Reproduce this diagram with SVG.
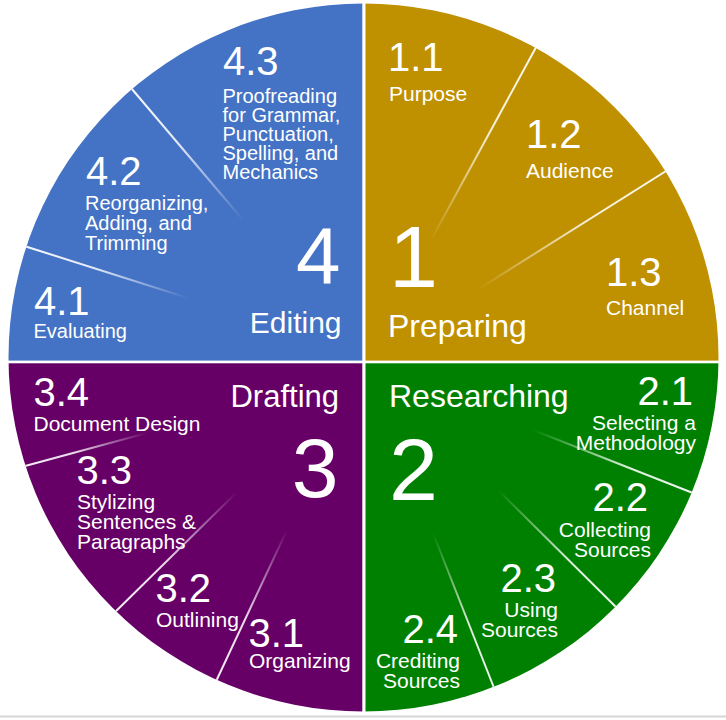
<svg xmlns="http://www.w3.org/2000/svg" width="726" height="720" viewBox="0 0 726 720">
<style>
text{font-family:"Liberation Sans",Arial,sans-serif;fill:#fff}
.num{font-size:40px}
.lab{font-size:21px}
.labb{font-size:20px}
.big{font-size:88px}
.title{font-size:32px}
.end{text-anchor:end}
.div{stroke-width:2;fill:none;stroke-linecap:butt}
</style>
<defs>
<clipPath id="pie"><ellipse cx="363.5" cy="357.5" rx="355" ry="354"/></clipPath>
<linearGradient id="g1" gradientUnits="userSpaceOnUse" x1="540" y1="40" x2="430" y2="242"><stop offset="0" stop-color="#fff" stop-opacity="0.95"/><stop offset="0.45" stop-color="#fff" stop-opacity="0.85"/><stop offset="1" stop-color="#fff" stop-opacity="0"/></linearGradient>
<linearGradient id="g2" gradientUnits="userSpaceOnUse" x1="674" y1="166" x2="477" y2="290"><stop offset="0" stop-color="#fff" stop-opacity="0.95"/><stop offset="0.45" stop-color="#fff" stop-opacity="0.85"/><stop offset="1" stop-color="#fff" stop-opacity="0"/></linearGradient>
<linearGradient id="g3" gradientUnits="userSpaceOnUse" x1="703" y1="497" x2="533" y2="430"><stop offset="0" stop-color="#fff" stop-opacity="0.95"/><stop offset="0.45" stop-color="#fff" stop-opacity="0.85"/><stop offset="1" stop-color="#fff" stop-opacity="0"/></linearGradient>
<linearGradient id="g4" gradientUnits="userSpaceOnUse" x1="625" y1="616" x2="498" y2="490"><stop offset="0" stop-color="#fff" stop-opacity="0.95"/><stop offset="0.45" stop-color="#fff" stop-opacity="0.85"/><stop offset="1" stop-color="#fff" stop-opacity="0"/></linearGradient>
<linearGradient id="g5" gradientUnits="userSpaceOnUse" x1="498" y1="698" x2="433" y2="533"><stop offset="0" stop-color="#fff" stop-opacity="0.95"/><stop offset="0.45" stop-color="#fff" stop-opacity="0.85"/><stop offset="1" stop-color="#fff" stop-opacity="0"/></linearGradient>
<linearGradient id="g6" gradientUnits="userSpaceOnUse" x1="14" y1="469" x2="147" y2="433"><stop offset="0" stop-color="#fff" stop-opacity="0.95"/><stop offset="0.45" stop-color="#fff" stop-opacity="0.85"/><stop offset="1" stop-color="#fff" stop-opacity="0"/></linearGradient>
<linearGradient id="g7" gradientUnits="userSpaceOnUse" x1="107" y1="620" x2="237" y2="492"><stop offset="0" stop-color="#fff" stop-opacity="0.95"/><stop offset="0.45" stop-color="#fff" stop-opacity="0.85"/><stop offset="1" stop-color="#fff" stop-opacity="0"/></linearGradient>
<linearGradient id="g8" gradientUnits="userSpaceOnUse" x1="211" y1="692" x2="287" y2="530"><stop offset="0" stop-color="#fff" stop-opacity="0.95"/><stop offset="0.45" stop-color="#fff" stop-opacity="0.85"/><stop offset="1" stop-color="#fff" stop-opacity="0"/></linearGradient>
<linearGradient id="g9" gradientUnits="userSpaceOnUse" x1="126" y1="82" x2="243" y2="220"><stop offset="0" stop-color="#fff" stop-opacity="0.95"/><stop offset="0.45" stop-color="#fff" stop-opacity="0.85"/><stop offset="1" stop-color="#fff" stop-opacity="0"/></linearGradient>
<linearGradient id="g10" gradientUnits="userSpaceOnUse" x1="18" y1="244" x2="188" y2="298"><stop offset="0" stop-color="#fff" stop-opacity="0.95"/><stop offset="0.45" stop-color="#fff" stop-opacity="0.85"/><stop offset="1" stop-color="#fff" stop-opacity="0"/></linearGradient>
</defs>
<rect x="0" y="0" width="726" height="720" fill="#fff"/>
<rect x="0" y="715.5" width="726" height="2" fill="#d6d6d6"/>

<g id="preparing">
<rect x="365.5" y="0" width="361" height="360.6" fill="#BF9000" clip-path="url(#pie)"/>
<text x="388" y="71"><tspan class="num">1.1</tspan><tspan class="lab" x="389" dy="30">Purpose</tspan></text>
<text x="526" y="148"><tspan class="num">1.2</tspan><tspan class="lab" x="526" dy="30">Audience</tspan></text>
<text x="606" y="286"><tspan class="num">1.3</tspan><tspan class="lab" x="606" dy="29">Channel</tspan></text>
<text class="big" x="389" y="287">1</text>
<text class="title" x="388" y="337">Preparing</text>
</g>

<g id="researching">
<rect x="365.5" y="363.3" width="361" height="357" fill="#008000" clip-path="url(#pie)"/>
<text class="title" x="389" y="407">Researching</text>
<text class="big" x="389" y="500">2</text>
<text class="end" x="696" y="405"><tspan class="num" x="693" text-anchor="end">2.1</tspan><tspan class="lab" x="696" dy="25">Selecting a</tspan><tspan class="lab" x="696" dy="20">Methodology</tspan></text>
<text class="end" x="651" y="511"><tspan class="num" x="648">2.2</tspan><tspan class="lab" x="651" dy="26">Collecting</tspan><tspan class="lab" x="651" dy="20">Sources</tspan></text>
<text class="end" x="558" y="592"><tspan class="num" x="556">2.3</tspan><tspan class="lab" x="558" dy="25">Using</tspan><tspan class="lab" x="558" dy="20">Sources</tspan></text>
<text class="end" x="460" y="643"><tspan class="num" x="458">2.4</tspan><tspan class="lab" x="460" dy="25">Crediting</tspan><tspan class="lab" x="460" dy="20">Sources</tspan></text>
</g>

<g id="drafting">
<rect x="0" y="363.3" width="362.3" height="357" fill="#660066" clip-path="url(#pie)"/>
<text class="title end" x="339" y="406.5" style="font-size:31px">Drafting</text>
<text class="big end" x="338.5" y="497" style="font-size:84px">3</text>
<text x="33.5" y="406"><tspan class="num">3.4</tspan><tspan class="lab" x="33.5" dy="25">Document Design</tspan></text>
<text x="76.5" y="484"><tspan class="num">3.3</tspan><tspan class="lab" x="77" dy="25">Stylizing</tspan><tspan class="lab" x="77" dy="20">Sentences &amp;</tspan><tspan class="lab" x="77" dy="20">Paragraphs</tspan></text>
<text x="155.5" y="602"><tspan class="num">3.2</tspan><tspan class="lab" x="156" dy="25">Outlining</tspan></text>
<text x="248.5" y="647"><tspan class="num">3.1</tspan><tspan class="lab" x="249" dy="21">Organizing</tspan></text>
</g>

<g id="editing">
<rect x="0" y="0" width="362.3" height="360.6" fill="#4472C4" clip-path="url(#pie)"/>
<text class="big end" x="340.5" y="283" style="font-size:80px">4</text>
<text class="title end" x="341.5" y="333" style="font-size:30px">Editing</text>
<text x="223" y="75"><tspan class="num">4.3</tspan><tspan class="labb" x="222.5" dy="28">Proofreading</tspan><tspan class="labb" x="222.5" dy="19">for Grammar,</tspan><tspan class="labb" x="222.5" dy="19">Punctuation,</tspan><tspan class="labb" x="222.5" dy="19">Spelling, and</tspan><tspan class="labb" x="222.5" dy="19">Mechanics</tspan></text>
<text x="86" y="185"><tspan class="num">4.2</tspan><tspan class="labb" x="85" dy="25">Reorganizing,</tspan><tspan class="labb" x="85" dy="20">Adding, and</tspan><tspan class="labb" x="85" dy="19.5">Trimming</tspan></text>
<text x="34" y="315"><tspan class="num">4.1</tspan><tspan class="labb" x="33.5" dy="23">Evaluating</tspan></text>
</g>

<g id="dividers" class="div" clip-path="url(#pie)">
<line x1="540" y1="40" x2="430" y2="242" stroke="url(#g1)"/>
<line x1="674" y1="166" x2="477" y2="290" stroke="url(#g2)"/>
<line x1="703" y1="497" x2="533" y2="430" stroke="url(#g3)"/>
<line x1="625" y1="616" x2="498" y2="490" stroke="url(#g4)"/>
<line x1="498" y1="698" x2="433" y2="533" stroke="url(#g5)"/>
<line x1="14" y1="469" x2="147" y2="433" stroke="url(#g6)"/>
<line x1="107" y1="620" x2="237" y2="492" stroke="url(#g7)"/>
<line x1="211" y1="692" x2="287" y2="530" stroke="url(#g8)"/>
<line x1="126" y1="82" x2="243" y2="220" stroke="url(#g9)"/>
<line x1="18" y1="244" x2="188" y2="298" stroke="url(#g10)"/>
</g>
</svg>
